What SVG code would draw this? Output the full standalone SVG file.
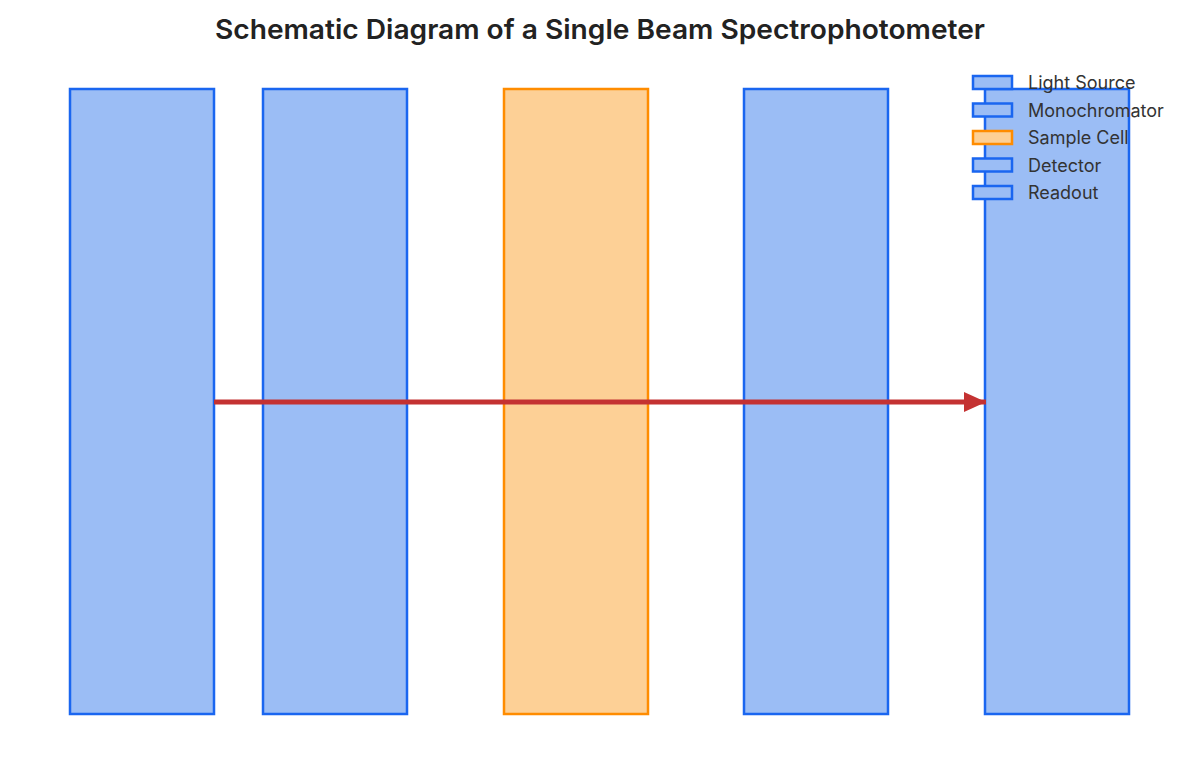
<svg xmlns="http://www.w3.org/2000/svg" width="1200" height="763" viewBox="0 0 1200 763">
<style>
.title{font-family:Inter,"Open Sans","Liberation Sans",sans-serif;font-weight:600;font-size:27.5px;fill:#222;}
.blue{fill:#9bbdf5;stroke:#1a66f0;stroke-width:2.5;}
.orange{fill:#fdd096;stroke:#ff8c00;stroke-width:2.5;}
.leg{font-family:Inter,"Open Sans","Liberation Sans",sans-serif;font-size:18px;fill:#333;}
.beam{stroke:#c43232;stroke-width:5;fill:none;}
</style>
<defs>
<marker id="arrow" markerUnits="userSpaceOnUse" markerWidth="24" markerHeight="20" refX="22" refY="10" orient="auto">
<path d="M0,0 L22,10 L0,20 Z" fill="#c43232"/>
</marker>
</defs>
<rect width="1200" height="763" fill="#ffffff"/>
<text class="title" x="600" y="39" text-anchor="middle" textLength="770" lengthAdjust="spacingAndGlyphs">Schematic Diagram of a Single Beam Spectrophotometer</text>
<g id="light-source"><rect class="blue" x="70" y="89" width="144" height="625"/></g>
<g id="monochromator"><rect class="blue" x="263" y="89" width="144" height="625"/></g>
<g id="sample-cell"><rect class="orange" x="504" y="89" width="144" height="625"/></g>
<g id="detector"><rect class="blue" x="744" y="89" width="144" height="625"/></g>
<g id="readout"><rect class="blue" x="985" y="89" width="144" height="625"/></g>
<g id="connectors">
<line class="beam" x1="214" y1="402" x2="986" y2="402" marker-end="url(#arrow)"/>
</g>
<g id="legend">
<rect class="blue" x="973" y="76" width="39" height="13"/>
<text class="leg" x="1028" y="89">Light Source</text>
<rect class="blue" x="973" y="103.5" width="39" height="13"/>
<text class="leg" x="1028" y="117">Monochromator</text>
<rect class="orange" x="973" y="131" width="39" height="13"/>
<text class="leg" x="1028" y="144">Sample Cell</text>
<rect class="blue" x="973" y="158.5" width="39" height="13"/>
<text class="leg" x="1028" y="172">Detector</text>
<rect class="blue" x="973" y="186" width="39" height="13"/>
<text class="leg" x="1028" y="199">Readout</text>
</g>
</svg>
